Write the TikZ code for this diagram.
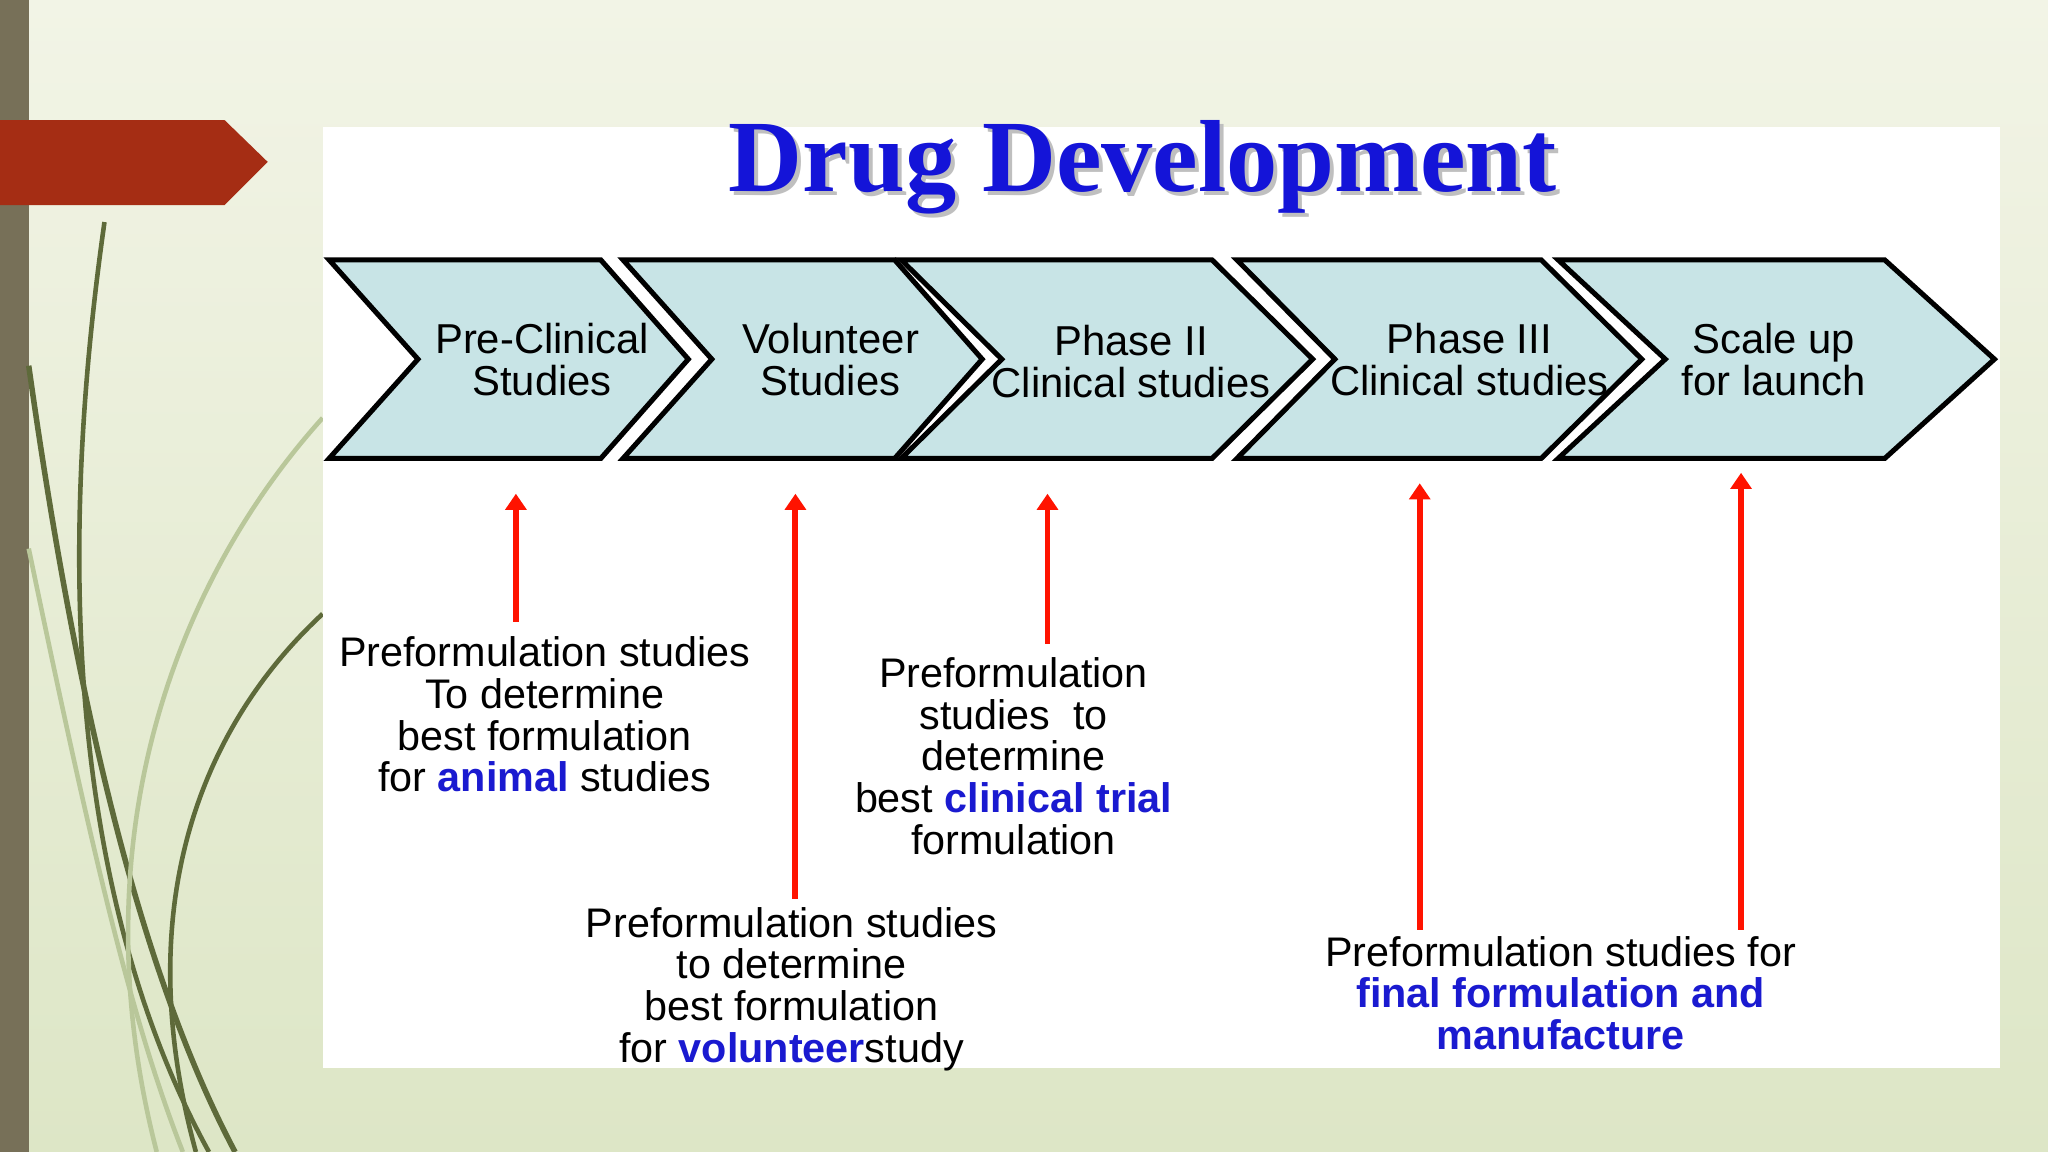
\documentclass[tikz,border=0pt]{standalone}
\usepackage{fontspec}
\setmainfont{Liberation Sans}
\newfontfamily\titlefont{Liberation Serif}
\usetikzlibrary{arrows.meta}
\definecolor{bgA}{HTML}{F2F4E6}
\definecolor{bgB}{HTML}{DDE6C6}
\definecolor{band}{HTML}{777058}
\definecolor{tagred}{HTML}{A52D14}
\definecolor{chev}{HTML}{C8E4E6}
\definecolor{ttl}{HTML}{1414D8}
\definecolor{kw}{HTML}{1A1AD0}
\definecolor{leaf}{HTML}{5E6A3A}
\definecolor{leafl}{HTML}{B9C79A}
\tikzset{
  chevshape/.style={draw=black,line width=1.1pt,fill=chev,line join=miter},
  chevtext/.style={font=\fontsize{9.1pt}{9.1pt}\selectfont,align=center},
  body/.style={font=\fontsize{9pt}{9.05pt}\selectfont,align=center,anchor=north,inner sep=0pt},
  ttlstyle/.style={font=\titlefont\bfseries\fontsize{22.3pt}{24pt}\selectfont},
  redarrow/.style={draw=red!85!orange,line width=1.3pt,-{Triangle[length=3.5pt,width=4.5pt]}},
}
\newcommand{\kwd}[1]{\textcolor{kw}{\textbf{#1}}}
\begin{document}
\begin{tikzpicture}[x=0.01cm,y=-0.01cm]
\useasboundingbox (0,0) rectangle (1568,882);
\shade[top color=bgA,bottom color=bgB] (0,0) rectangle (1568,882);
\fill[band] (0,0) rectangle (22,882);
% decorative leaves
\draw[leaf,line width=1pt] (80,170) .. controls (40,450) and (60,700) .. (160,882);
\draw[leaf,line width=1.2pt] (22,280) .. controls (60,550) and (110,750) .. (180,882);
\draw[leafl,line width=1pt] (22,420) .. controls (70,650) and (100,780) .. (140,882);
\draw[leaf,line width=1pt] (247,470) .. controls (150,560) and (100,700) .. (150,882);
\draw[leafl,line width=1pt] (247,320) .. controls (130,450) and (60,650) .. (120,882);
\fill[tagred] (0,92) -- (172,92) -- (205,124) -- (172,157) -- (0,157) -- cycle;
% panel
\fill[white] (247,97) rectangle (1531,818);
\node[ttlstyle,text=black!25] (titleshadow) at (878,131) {Drug Development};
\node[ttlstyle,text=ttl] (title) at (875,128) {Drug Development};
% chevrons
\draw[chevshape] (252,199) -- (460,199) -- (527,275) -- (460,351) -- (252,351) -- (320,275) -- cycle;
\draw[chevshape] (477,199) -- (685,199) -- (752,275) -- (685,351) -- (477,351) -- (545,275) -- cycle;
\draw[chevshape] (690,199) -- (928,199) -- (1005,275) -- (928,351) -- (690,351) -- (767,275) -- cycle;
\draw[chevshape] (947,199) -- (1180,199) -- (1257,275) -- (1180,351) -- (947,351) -- (1022,275) -- cycle;
\draw[chevshape] (1193,199) -- (1443,199) -- (1527,275) -- (1443,351) -- (1193,351) -- (1275,275) -- cycle;
\node[chevtext] (c1) at (415,275) {Pre-Clinical\\Studies};
\node[chevtext] (c2) at (636,275) {Volunteer\\Studies};
\node[chevtext] (c3) at (866,277) {Phase II\\Clinical studies};
\node[chevtext] (c4) at (1125,275) {Phase III\\Clinical studies};
\node[chevtext] (c5) at (1358,275) {Scale up\\for launch};
% texts
\node[body] (t1) at (417,487) {Preformulation studies\\To determine\\best formulation\\for \kwd{animal} studies};
\node[body] (t2) at (606,694) {Preformulation studies\\to determine\\best formulation\\for \kwd{volunteer}study};
\node[body] (t3) at (776,503) {Preformulation\\studies\ \ to\\determine\\best \kwd{clinical trial}\\formulation};
\node[body] (t4) at (1195,716) {Preformulation studies for\\\kwd{final formulation and}\\\kwd{manufacture}};
% arrows
\coordinate (a1) at (395,378); \coordinate (b1) at (395,476);
\coordinate (a2) at (609,378); \coordinate (b2) at (609,688);
\coordinate (a3) at (802,378); \coordinate (b3) at (802,493);
\coordinate (a4) at (1087,370); \coordinate (b4) at (1087,712);
\coordinate (a5) at (1333,362); \coordinate (b5) at (1333,712);
\draw[redarrow] (b1) -- (a1);
\draw[redarrow] (b2) -- (a2);
\draw[redarrow] (b3) -- (a3);
\draw[redarrow] (b4) -- (a4);
\draw[redarrow] (b5) -- (a5);
\end{tikzpicture}
\end{document}
